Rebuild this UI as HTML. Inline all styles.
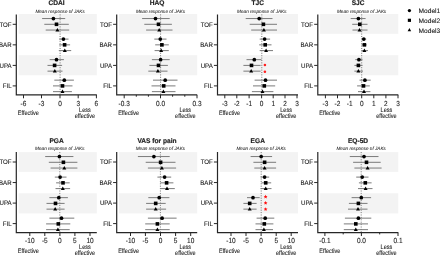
<!DOCTYPE html>
<html><head><meta charset="utf-8"><style>
html,body{margin:0;padding:0;background:#fff;width:440px;height:255px;overflow:hidden}
svg{display:block;will-change:transform;text-rendering:geometricPrecision}
text{font-family:"Liberation Sans", sans-serif;fill:#1c1c1c;stroke:#1c1c1c;stroke-width:0}
text.sub{stroke-width:0.05px}
text.cat,text.tk,text.ef,text.lg{stroke-width:0.1px}
text.ti{stroke-width:0.18px}
</style></head><body>
<svg width="440" height="255" viewBox="0 0 440 255">
<g transform="translate(0,0)">
<rect x="18.6" y="14" width="78.2" height="19.8" fill="#f3f3f3"/>
<rect x="18.6" y="55.2" width="78.2" height="20.1" fill="#f3f3f3"/>
<line x1="60.1" y1="14.4" x2="60.1" y2="94.9" stroke="#666" stroke-width="0.9" stroke-dasharray="1,1.4"/>
<line x1="42.1" y1="18.55" x2="65.2" y2="18.55" stroke="#7a7a7a" stroke-width="1"/>
<circle cx="53.4" cy="18.55" r="1.85" fill="#000"/>
<line x1="44.3" y1="24.3" x2="68.8" y2="24.3" stroke="#7a7a7a" stroke-width="1"/>
<rect x="54.7" y="22.5" width="3.6" height="3.6" fill="#000"/>
<line x1="45.7" y1="30.05" x2="69.2" y2="30.05" stroke="#7a7a7a" stroke-width="1"/>
<polygon points="57.4,27.89 55.4,31.49 59.4,31.49" fill="#000"/>
<line x1="59.2" y1="39.1" x2="68.5" y2="39.1" stroke="#7a7a7a" stroke-width="1"/>
<circle cx="63.4" cy="39.1" r="1.85" fill="#000"/>
<line x1="59.2" y1="44.85" x2="70.1" y2="44.85" stroke="#7a7a7a" stroke-width="1"/>
<rect x="62.8" y="43.05" width="3.6" height="3.6" fill="#000"/>
<line x1="58.8" y1="50.6" x2="71.2" y2="50.6" stroke="#7a7a7a" stroke-width="1"/>
<polygon points="64.8,48.44 62.8,52.04 66.8,52.04" fill="#000"/>
<line x1="49.7" y1="59.65" x2="63.9" y2="59.65" stroke="#7a7a7a" stroke-width="1"/>
<circle cx="56.5" cy="59.65" r="1.85" fill="#000"/>
<line x1="47.5" y1="65.4" x2="62.1" y2="65.4" stroke="#7a7a7a" stroke-width="1"/>
<rect x="52.8" y="63.6" width="3.6" height="3.6" fill="#000"/>
<line x1="47.5" y1="71.15" x2="62.5" y2="71.15" stroke="#7a7a7a" stroke-width="1"/>
<polygon points="54.8,68.99 52.8,72.59 56.8,72.59" fill="#000"/>
<line x1="54.3" y1="80.15" x2="73.9" y2="80.15" stroke="#7a7a7a" stroke-width="1"/>
<circle cx="64.3" cy="80.15" r="1.85" fill="#000"/>
<line x1="53" y1="85.9" x2="72.5" y2="85.9" stroke="#7a7a7a" stroke-width="1"/>
<rect x="60.7" y="84.1" width="3.6" height="3.6" fill="#000"/>
<line x1="53" y1="91.65" x2="71.9" y2="91.65" stroke="#7a7a7a" stroke-width="1"/>
<polygon points="62.5,89.49 60.5,93.09 64.5,93.09" fill="#000"/>
<path d="M16.3 14.4 V94.9 H96.8" fill="none" stroke="#262626" stroke-width="1.2"/>
<line x1="12.7" y1="24.3" x2="16.3" y2="24.3" stroke="#262626" stroke-width="1"/>
<text transform="translate(11.6,26.6) scale(0.94,1)" text-anchor="end" font-size="6.5" class="cat">TOF</text>
<line x1="12.7" y1="44.85" x2="16.3" y2="44.85" stroke="#262626" stroke-width="1"/>
<text transform="translate(11.6,47.15) scale(0.94,1)" text-anchor="end" font-size="6.5" class="cat">BAR</text>
<line x1="12.7" y1="65.4" x2="16.3" y2="65.4" stroke="#262626" stroke-width="1"/>
<text transform="translate(11.6,67.7) scale(0.94,1)" text-anchor="end" font-size="6.5" class="cat">UPA</text>
<line x1="12.7" y1="85.9" x2="16.3" y2="85.9" stroke="#262626" stroke-width="1"/>
<text transform="translate(11.6,88.2) scale(0.94,1)" text-anchor="end" font-size="6.5" class="cat">FIL</text>
<line x1="23.5" y1="94.9" x2="23.5" y2="98.3" stroke="#262626" stroke-width="1"/>
<text transform="translate(23.5,105.5) scale(0.88,1)" text-anchor="middle" font-size="7.4" class="tk">-6</text>
<line x1="41.5" y1="94.9" x2="41.5" y2="98.3" stroke="#262626" stroke-width="1"/>
<text transform="translate(41.5,105.5) scale(0.88,1)" text-anchor="middle" font-size="7.4" class="tk">-3</text>
<line x1="60" y1="94.9" x2="60" y2="98.3" stroke="#262626" stroke-width="1"/>
<text transform="translate(60,105.5) scale(0.88,1)" text-anchor="middle" font-size="7.4" class="tk">0</text>
<line x1="78.2" y1="94.9" x2="78.2" y2="98.3" stroke="#262626" stroke-width="1"/>
<text transform="translate(78.2,105.5) scale(0.88,1)" text-anchor="middle" font-size="7.4" class="tk">3</text>
<line x1="96.4" y1="94.9" x2="96.4" y2="98.3" stroke="#262626" stroke-width="1"/>
<text transform="translate(96.4,105.5) scale(0.88,1)" text-anchor="middle" font-size="7.4" class="tk">6</text>
<text transform="translate(17.8,114.9) scale(0.86,1)" font-size="6.4" class="ef">Effective</text>
<text transform="translate(84.9,111.6) scale(0.86,1)" text-anchor="middle" font-size="6.4" class="ef">Less</text>
<text transform="translate(84.9,117.6) scale(0.86,1)" text-anchor="middle" font-size="6.4" class="ef">effective</text>
<text transform="translate(56.55,4.8) scale(0.97,1)" text-anchor="middle" font-size="6.8" font-weight="bold" class="ti">CDAI</text>
<text transform="translate(60.1,12.8) scale(0.97,1)" text-anchor="middle" font-size="4.8" font-style="italic" class="sub">Mean response of JAKs</text>
</g>
<g transform="translate(0,0)">
<rect x="119" y="14" width="78.2" height="19.8" fill="#f3f3f3"/>
<rect x="119" y="55.2" width="78.2" height="20.1" fill="#f3f3f3"/>
<line x1="160.6" y1="14.4" x2="160.6" y2="94.9" stroke="#666" stroke-width="0.9" stroke-dasharray="1,1.4"/>
<line x1="142.1" y1="18.55" x2="169.7" y2="18.55" stroke="#7a7a7a" stroke-width="1"/>
<circle cx="155.5" cy="18.55" r="1.85" fill="#000"/>
<line x1="144.3" y1="24.3" x2="171.9" y2="24.3" stroke="#7a7a7a" stroke-width="1"/>
<rect x="156.7" y="22.5" width="3.6" height="3.6" fill="#000"/>
<line x1="146.1" y1="30.05" x2="172.5" y2="30.05" stroke="#7a7a7a" stroke-width="1"/>
<polygon points="159.2,27.89 157.2,31.49 161.2,31.49" fill="#000"/>
<line x1="154.3" y1="39.1" x2="166.5" y2="39.1" stroke="#7a7a7a" stroke-width="1"/>
<circle cx="160.3" cy="39.1" r="1.85" fill="#000"/>
<line x1="155.2" y1="44.85" x2="168.8" y2="44.85" stroke="#7a7a7a" stroke-width="1"/>
<rect x="160.1" y="43.05" width="3.6" height="3.6" fill="#000"/>
<line x1="154.6" y1="50.6" x2="168.8" y2="50.6" stroke="#7a7a7a" stroke-width="1"/>
<polygon points="161.2,48.44 159.2,52.04 163.2,52.04" fill="#000"/>
<line x1="151.9" y1="59.65" x2="169.7" y2="59.65" stroke="#7a7a7a" stroke-width="1"/>
<circle cx="160.6" cy="59.65" r="1.85" fill="#000"/>
<line x1="149.4" y1="65.4" x2="167.9" y2="65.4" stroke="#7a7a7a" stroke-width="1"/>
<rect x="156.7" y="63.6" width="3.6" height="3.6" fill="#000"/>
<line x1="148.3" y1="71.15" x2="167.5" y2="71.15" stroke="#7a7a7a" stroke-width="1"/>
<polygon points="157.9,68.99 155.9,72.59 159.9,72.59" fill="#000"/>
<line x1="153" y1="80.15" x2="177.5" y2="80.15" stroke="#7a7a7a" stroke-width="1"/>
<circle cx="165.2" cy="80.15" r="1.85" fill="#000"/>
<line x1="151.5" y1="85.9" x2="175.5" y2="85.9" stroke="#7a7a7a" stroke-width="1"/>
<rect x="161.9" y="84.1" width="3.6" height="3.6" fill="#000"/>
<line x1="151.9" y1="91.65" x2="175.5" y2="91.65" stroke="#7a7a7a" stroke-width="1"/>
<polygon points="163.4,89.49 161.4,93.09 165.4,93.09" fill="#000"/>
<path d="M116.7 14.4 V94.9 H197.2" fill="none" stroke="#262626" stroke-width="1.2"/>
<line x1="113.1" y1="24.3" x2="116.7" y2="24.3" stroke="#262626" stroke-width="1"/>
<text transform="translate(112,26.6) scale(0.94,1)" text-anchor="end" font-size="6.5" class="cat">TOF</text>
<line x1="113.1" y1="44.85" x2="116.7" y2="44.85" stroke="#262626" stroke-width="1"/>
<text transform="translate(112,47.15) scale(0.94,1)" text-anchor="end" font-size="6.5" class="cat">BAR</text>
<line x1="113.1" y1="65.4" x2="116.7" y2="65.4" stroke="#262626" stroke-width="1"/>
<text transform="translate(112,67.7) scale(0.94,1)" text-anchor="end" font-size="6.5" class="cat">UPA</text>
<line x1="113.1" y1="85.9" x2="116.7" y2="85.9" stroke="#262626" stroke-width="1"/>
<text transform="translate(112,88.2) scale(0.94,1)" text-anchor="end" font-size="6.5" class="cat">FIL</text>
<line x1="124.2" y1="94.9" x2="124.2" y2="98.3" stroke="#262626" stroke-width="1"/>
<text transform="translate(124.2,105.5) scale(0.88,1)" text-anchor="middle" font-size="7.4" class="tk">-0.3</text>
<line x1="136.3" y1="94.9" x2="136.3" y2="96.7" stroke="#262626" stroke-width="1"/>
<line x1="148.4" y1="94.9" x2="148.4" y2="96.7" stroke="#262626" stroke-width="1"/>
<line x1="160.5" y1="94.9" x2="160.5" y2="98.3" stroke="#262626" stroke-width="1"/>
<text transform="translate(160.5,105.5) scale(0.88,1)" text-anchor="middle" font-size="7.4" class="tk">0.0</text>
<line x1="172.6" y1="94.9" x2="172.6" y2="96.7" stroke="#262626" stroke-width="1"/>
<line x1="184.8" y1="94.9" x2="184.8" y2="96.7" stroke="#262626" stroke-width="1"/>
<line x1="197" y1="94.9" x2="197" y2="98.3" stroke="#262626" stroke-width="1"/>
<text transform="translate(197,105.5) scale(0.88,1)" text-anchor="middle" font-size="7.4" class="tk">0.3</text>
<text transform="translate(118.2,114.9) scale(0.86,1)" font-size="6.4" class="ef">Effective</text>
<text transform="translate(185.3,111.6) scale(0.86,1)" text-anchor="middle" font-size="6.4" class="ef">Less</text>
<text transform="translate(185.3,117.6) scale(0.86,1)" text-anchor="middle" font-size="6.4" class="ef">effective</text>
<text transform="translate(156.95,4.8) scale(0.97,1)" text-anchor="middle" font-size="6.8" font-weight="bold" class="ti">HAQ</text>
<text transform="translate(160.6,12.8) scale(0.97,1)" text-anchor="middle" font-size="4.8" font-style="italic" class="sub">Mean response of JAKs</text>
</g>
<g transform="translate(0,0)">
<rect x="219.8" y="14" width="78.2" height="19.8" fill="#f3f3f3"/>
<rect x="219.8" y="55.2" width="78.2" height="20.1" fill="#f3f3f3"/>
<line x1="261.8" y1="14.4" x2="261.8" y2="94.9" stroke="#666" stroke-width="0.9" stroke-dasharray="1,1.4"/>
<line x1="245.7" y1="18.55" x2="272.5" y2="18.55" stroke="#7a7a7a" stroke-width="1"/>
<circle cx="259.2" cy="18.55" r="1.85" fill="#000"/>
<line x1="249.7" y1="24.3" x2="277" y2="24.3" stroke="#7a7a7a" stroke-width="1"/>
<rect x="261.6" y="22.5" width="3.6" height="3.6" fill="#000"/>
<line x1="251.2" y1="30.05" x2="277" y2="30.05" stroke="#7a7a7a" stroke-width="1"/>
<polygon points="263.9,27.89 261.9,31.49 265.9,31.49" fill="#000"/>
<line x1="259.7" y1="39.1" x2="270.1" y2="39.1" stroke="#7a7a7a" stroke-width="1"/>
<circle cx="264.6" cy="39.1" r="1.85" fill="#000"/>
<line x1="259.2" y1="44.85" x2="271.5" y2="44.85" stroke="#7a7a7a" stroke-width="1"/>
<rect x="263.4" y="43.05" width="3.6" height="3.6" fill="#000"/>
<line x1="259.7" y1="50.6" x2="273" y2="50.6" stroke="#7a7a7a" stroke-width="1"/>
<polygon points="266.1,48.44 264.1,52.04 268.1,52.04" fill="#000"/>
<line x1="246.5" y1="59.65" x2="261.5" y2="59.65" stroke="#7a7a7a" stroke-width="1"/>
<circle cx="254.3" cy="59.65" r="1.85" fill="#000"/>
<line x1="243.4" y1="65.4" x2="260.6" y2="65.4" stroke="#7a7a7a" stroke-width="1"/>
<rect x="249.7" y="63.6" width="3.6" height="3.6" fill="#000"/>
<line x1="243.4" y1="71.15" x2="260.6" y2="71.15" stroke="#7a7a7a" stroke-width="1"/>
<polygon points="251.2,68.99 249.2,72.59 253.2,72.59" fill="#000"/>
<line x1="254.6" y1="80.15" x2="277" y2="80.15" stroke="#7a7a7a" stroke-width="1"/>
<circle cx="265.5" cy="80.15" r="1.85" fill="#000"/>
<line x1="253" y1="85.9" x2="275.2" y2="85.9" stroke="#7a7a7a" stroke-width="1"/>
<rect x="262.5" y="84.1" width="3.6" height="3.6" fill="#000"/>
<line x1="251.9" y1="91.65" x2="273.4" y2="91.65" stroke="#7a7a7a" stroke-width="1"/>
<polygon points="262.5,89.49 260.5,93.09 264.5,93.09" fill="#000"/>
<circle cx="264.9" cy="65.05" r="1.3" fill="#ff2020"/>
<circle cx="264.9" cy="71.7" r="1.3" fill="#ff2020"/>
<path d="M217.5 14.4 V94.9 H298" fill="none" stroke="#262626" stroke-width="1.2"/>
<line x1="213.9" y1="24.3" x2="217.5" y2="24.3" stroke="#262626" stroke-width="1"/>
<text transform="translate(212.8,26.6) scale(0.94,1)" text-anchor="end" font-size="6.5" class="cat">TOF</text>
<line x1="213.9" y1="44.85" x2="217.5" y2="44.85" stroke="#262626" stroke-width="1"/>
<text transform="translate(212.8,47.15) scale(0.94,1)" text-anchor="end" font-size="6.5" class="cat">BAR</text>
<line x1="213.9" y1="65.4" x2="217.5" y2="65.4" stroke="#262626" stroke-width="1"/>
<text transform="translate(212.8,67.7) scale(0.94,1)" text-anchor="end" font-size="6.5" class="cat">UPA</text>
<line x1="213.9" y1="85.9" x2="217.5" y2="85.9" stroke="#262626" stroke-width="1"/>
<text transform="translate(212.8,88.2) scale(0.94,1)" text-anchor="end" font-size="6.5" class="cat">FIL</text>
<line x1="224.8" y1="94.9" x2="224.8" y2="98.3" stroke="#262626" stroke-width="1"/>
<text transform="translate(224.8,105.5) scale(0.88,1)" text-anchor="middle" font-size="7.4" class="tk">-3</text>
<line x1="236.8" y1="94.9" x2="236.8" y2="98.3" stroke="#262626" stroke-width="1"/>
<text transform="translate(236.8,105.5) scale(0.88,1)" text-anchor="middle" font-size="7.4" class="tk">-2</text>
<line x1="249.1" y1="94.9" x2="249.1" y2="98.3" stroke="#262626" stroke-width="1"/>
<text transform="translate(249.1,105.5) scale(0.88,1)" text-anchor="middle" font-size="7.4" class="tk">-1</text>
<line x1="261.6" y1="94.9" x2="261.6" y2="98.3" stroke="#262626" stroke-width="1"/>
<text transform="translate(261.6,105.5) scale(0.88,1)" text-anchor="middle" font-size="7.4" class="tk">0</text>
<line x1="273.2" y1="94.9" x2="273.2" y2="98.3" stroke="#262626" stroke-width="1"/>
<text transform="translate(273.2,105.5) scale(0.88,1)" text-anchor="middle" font-size="7.4" class="tk">1</text>
<line x1="285" y1="94.9" x2="285" y2="98.3" stroke="#262626" stroke-width="1"/>
<text transform="translate(285,105.5) scale(0.88,1)" text-anchor="middle" font-size="7.4" class="tk">2</text>
<line x1="297" y1="94.9" x2="297" y2="98.3" stroke="#262626" stroke-width="1"/>
<text transform="translate(297,105.5) scale(0.88,1)" text-anchor="middle" font-size="7.4" class="tk">3</text>
<text transform="translate(219,114.9) scale(0.86,1)" font-size="6.4" class="ef">Effective</text>
<text transform="translate(286.1,111.6) scale(0.86,1)" text-anchor="middle" font-size="6.4" class="ef">Less</text>
<text transform="translate(286.1,117.6) scale(0.86,1)" text-anchor="middle" font-size="6.4" class="ef">effective</text>
<text transform="translate(257.75,4.8) scale(0.97,1)" text-anchor="middle" font-size="6.8" font-weight="bold" class="ti">TJC</text>
<text transform="translate(261.8,12.8) scale(0.97,1)" text-anchor="middle" font-size="4.8" font-style="italic" class="sub">Mean response of JAKs</text>
</g>
<g transform="translate(0,0)">
<rect x="320.1" y="14" width="78.2" height="19.8" fill="#f3f3f3"/>
<rect x="320.1" y="55.2" width="78.2" height="20.1" fill="#f3f3f3"/>
<line x1="361.7" y1="14.4" x2="361.7" y2="94.9" stroke="#666" stroke-width="0.9" stroke-dasharray="1,1.4"/>
<line x1="350.7" y1="18.55" x2="365.6" y2="18.55" stroke="#7a7a7a" stroke-width="1"/>
<circle cx="358.4" cy="18.55" r="1.85" fill="#000"/>
<line x1="352.2" y1="24.3" x2="367.5" y2="24.3" stroke="#7a7a7a" stroke-width="1"/>
<rect x="358" y="22.5" width="3.6" height="3.6" fill="#000"/>
<line x1="352.5" y1="30.05" x2="367.5" y2="30.05" stroke="#7a7a7a" stroke-width="1"/>
<polygon points="359.5,27.89 357.5,31.49 361.5,31.49" fill="#000"/>
<line x1="361.6" y1="39.1" x2="366.2" y2="39.1" stroke="#7a7a7a" stroke-width="1"/>
<circle cx="363.8" cy="39.1" r="1.85" fill="#000"/>
<line x1="361.6" y1="44.85" x2="366.7" y2="44.85" stroke="#7a7a7a" stroke-width="1"/>
<rect x="362.6" y="43.05" width="3.6" height="3.6" fill="#000"/>
<line x1="361.6" y1="50.6" x2="368" y2="50.6" stroke="#7a7a7a" stroke-width="1"/>
<polygon points="364.4,48.44 362.4,52.04 366.4,52.04" fill="#000"/>
<line x1="355.3" y1="59.65" x2="362.5" y2="59.65" stroke="#7a7a7a" stroke-width="1"/>
<circle cx="358.9" cy="59.65" r="1.85" fill="#000"/>
<line x1="354.4" y1="65.4" x2="362.5" y2="65.4" stroke="#7a7a7a" stroke-width="1"/>
<rect x="356.6" y="63.6" width="3.6" height="3.6" fill="#000"/>
<line x1="354.4" y1="71.15" x2="363" y2="71.15" stroke="#7a7a7a" stroke-width="1"/>
<polygon points="358.4,68.99 356.4,72.59 360.4,72.59" fill="#000"/>
<line x1="359.5" y1="80.15" x2="370.7" y2="80.15" stroke="#7a7a7a" stroke-width="1"/>
<circle cx="364.9" cy="80.15" r="1.85" fill="#000"/>
<line x1="357.1" y1="85.9" x2="369.8" y2="85.9" stroke="#7a7a7a" stroke-width="1"/>
<rect x="361.7" y="84.1" width="3.6" height="3.6" fill="#000"/>
<line x1="358" y1="91.65" x2="370.4" y2="91.65" stroke="#7a7a7a" stroke-width="1"/>
<polygon points="364,89.49 362,93.09 366,93.09" fill="#000"/>
<path d="M317.8 14.4 V94.9 H398.3" fill="none" stroke="#262626" stroke-width="1.2"/>
<line x1="314.2" y1="24.3" x2="317.8" y2="24.3" stroke="#262626" stroke-width="1"/>
<text transform="translate(313.1,26.6) scale(0.94,1)" text-anchor="end" font-size="6.5" class="cat">TOF</text>
<line x1="314.2" y1="44.85" x2="317.8" y2="44.85" stroke="#262626" stroke-width="1"/>
<text transform="translate(313.1,47.15) scale(0.94,1)" text-anchor="end" font-size="6.5" class="cat">BAR</text>
<line x1="314.2" y1="65.4" x2="317.8" y2="65.4" stroke="#262626" stroke-width="1"/>
<text transform="translate(313.1,67.7) scale(0.94,1)" text-anchor="end" font-size="6.5" class="cat">UPA</text>
<line x1="314.2" y1="85.9" x2="317.8" y2="85.9" stroke="#262626" stroke-width="1"/>
<text transform="translate(313.1,88.2) scale(0.94,1)" text-anchor="end" font-size="6.5" class="cat">FIL</text>
<line x1="325.4" y1="94.9" x2="325.4" y2="98.3" stroke="#262626" stroke-width="1"/>
<text transform="translate(325.4,105.5) scale(0.88,1)" text-anchor="middle" font-size="7.4" class="tk">-3</text>
<line x1="337.5" y1="94.9" x2="337.5" y2="98.3" stroke="#262626" stroke-width="1"/>
<text transform="translate(337.5,105.5) scale(0.88,1)" text-anchor="middle" font-size="7.4" class="tk">-2</text>
<line x1="349.6" y1="94.9" x2="349.6" y2="98.3" stroke="#262626" stroke-width="1"/>
<text transform="translate(349.6,105.5) scale(0.88,1)" text-anchor="middle" font-size="7.4" class="tk">-1</text>
<line x1="361.7" y1="94.9" x2="361.7" y2="98.3" stroke="#262626" stroke-width="1"/>
<text transform="translate(361.7,105.5) scale(0.88,1)" text-anchor="middle" font-size="7.4" class="tk">0</text>
<line x1="373.8" y1="94.9" x2="373.8" y2="98.3" stroke="#262626" stroke-width="1"/>
<text transform="translate(373.8,105.5) scale(0.88,1)" text-anchor="middle" font-size="7.4" class="tk">1</text>
<line x1="385.9" y1="94.9" x2="385.9" y2="98.3" stroke="#262626" stroke-width="1"/>
<text transform="translate(385.9,105.5) scale(0.88,1)" text-anchor="middle" font-size="7.4" class="tk">2</text>
<line x1="398" y1="94.9" x2="398" y2="98.3" stroke="#262626" stroke-width="1"/>
<text transform="translate(398,105.5) scale(0.88,1)" text-anchor="middle" font-size="7.4" class="tk">3</text>
<text transform="translate(319.3,114.9) scale(0.86,1)" font-size="6.4" class="ef">Effective</text>
<text transform="translate(386.4,111.6) scale(0.86,1)" text-anchor="middle" font-size="6.4" class="ef">Less</text>
<text transform="translate(386.4,117.6) scale(0.86,1)" text-anchor="middle" font-size="6.4" class="ef">effective</text>
<text transform="translate(358.05,4.8) scale(0.97,1)" text-anchor="middle" font-size="6.8" font-weight="bold" class="ti">SJC</text>
<text transform="translate(361.7,12.8) scale(0.97,1)" text-anchor="middle" font-size="4.8" font-style="italic" class="sub">Mean response of JAKs</text>
</g>
<g transform="translate(0,137.7)">
<rect x="18.6" y="14.4" width="78.2" height="19.8" fill="#f3f3f3"/>
<rect x="18.6" y="55.6" width="78.2" height="20.1" fill="#f3f3f3"/>
<line x1="59.8" y1="14.4" x2="59.8" y2="94.9" stroke="#666" stroke-width="0.9" stroke-dasharray="1,1.4"/>
<line x1="45.2" y1="18.85" x2="73.4" y2="18.85" stroke="#7a7a7a" stroke-width="1"/>
<circle cx="59.4" cy="18.85" r="1.85" fill="#000"/>
<line x1="48.8" y1="24.6" x2="77.4" y2="24.6" stroke="#7a7a7a" stroke-width="1"/>
<rect x="61.6" y="22.8" width="3.6" height="3.6" fill="#000"/>
<line x1="50.6" y1="30.35" x2="77.4" y2="30.35" stroke="#7a7a7a" stroke-width="1"/>
<polygon points="64.3,28.19 62.3,31.79 66.3,31.79" fill="#000"/>
<line x1="54.8" y1="39.4" x2="66.5" y2="39.4" stroke="#7a7a7a" stroke-width="1"/>
<circle cx="60.1" cy="39.4" r="1.85" fill="#000"/>
<line x1="56.1" y1="45.15" x2="69.7" y2="45.15" stroke="#7a7a7a" stroke-width="1"/>
<rect x="61.2" y="43.35" width="3.6" height="3.6" fill="#000"/>
<line x1="55.5" y1="50.9" x2="70.1" y2="50.9" stroke="#7a7a7a" stroke-width="1"/>
<polygon points="62.8,48.74 60.8,52.34 64.8,52.34" fill="#000"/>
<line x1="49.4" y1="59.95" x2="67.9" y2="59.95" stroke="#7a7a7a" stroke-width="1"/>
<circle cx="58.8" cy="59.95" r="1.85" fill="#000"/>
<line x1="46.5" y1="65.7" x2="64.6" y2="65.7" stroke="#7a7a7a" stroke-width="1"/>
<rect x="53.7" y="63.9" width="3.6" height="3.6" fill="#000"/>
<line x1="46.5" y1="71.45" x2="64.6" y2="71.45" stroke="#7a7a7a" stroke-width="1"/>
<polygon points="55.2,69.29 53.2,72.89 57.2,72.89" fill="#000"/>
<line x1="49.4" y1="80.45" x2="74.3" y2="80.45" stroke="#7a7a7a" stroke-width="1"/>
<circle cx="61.5" cy="80.45" r="1.85" fill="#000"/>
<line x1="46.1" y1="86.2" x2="70.3" y2="86.2" stroke="#7a7a7a" stroke-width="1"/>
<rect x="56.5" y="84.4" width="3.6" height="3.6" fill="#000"/>
<line x1="46.1" y1="91.95" x2="69.7" y2="91.95" stroke="#7a7a7a" stroke-width="1"/>
<polygon points="57.9,89.79 55.9,93.39 59.9,93.39" fill="#000"/>
<path d="M16.3 14.4 V94.9 H96.8" fill="none" stroke="#262626" stroke-width="1.2"/>
<line x1="12.7" y1="24.3" x2="16.3" y2="24.3" stroke="#262626" stroke-width="1"/>
<text transform="translate(11.6,26.6) scale(0.94,1)" text-anchor="end" font-size="6.5" class="cat">TOF</text>
<line x1="12.7" y1="44.85" x2="16.3" y2="44.85" stroke="#262626" stroke-width="1"/>
<text transform="translate(11.6,47.15) scale(0.94,1)" text-anchor="end" font-size="6.5" class="cat">BAR</text>
<line x1="12.7" y1="65.4" x2="16.3" y2="65.4" stroke="#262626" stroke-width="1"/>
<text transform="translate(11.6,67.7) scale(0.94,1)" text-anchor="end" font-size="6.5" class="cat">UPA</text>
<line x1="12.7" y1="85.9" x2="16.3" y2="85.9" stroke="#262626" stroke-width="1"/>
<text transform="translate(11.6,88.2) scale(0.94,1)" text-anchor="end" font-size="6.5" class="cat">FIL</text>
<line x1="29.8" y1="94.9" x2="29.8" y2="98.3" stroke="#262626" stroke-width="1"/>
<text transform="translate(29.8,105.5) scale(0.88,1)" text-anchor="middle" font-size="7.4" class="tk">-10</text>
<line x1="44.8" y1="94.9" x2="44.8" y2="98.3" stroke="#262626" stroke-width="1"/>
<text transform="translate(44.8,105.5) scale(0.88,1)" text-anchor="middle" font-size="7.4" class="tk">-5</text>
<line x1="59.9" y1="94.9" x2="59.9" y2="98.3" stroke="#262626" stroke-width="1"/>
<text transform="translate(59.9,105.5) scale(0.88,1)" text-anchor="middle" font-size="7.4" class="tk">0</text>
<line x1="74.9" y1="94.9" x2="74.9" y2="98.3" stroke="#262626" stroke-width="1"/>
<text transform="translate(74.9,105.5) scale(0.88,1)" text-anchor="middle" font-size="7.4" class="tk">5</text>
<line x1="90" y1="94.9" x2="90" y2="98.3" stroke="#262626" stroke-width="1"/>
<text transform="translate(90,105.5) scale(0.88,1)" text-anchor="middle" font-size="7.4" class="tk">10</text>
<text transform="translate(17.8,114.9) scale(0.86,1)" font-size="6.4" class="ef">Effective</text>
<text transform="translate(84.9,111.6) scale(0.86,1)" text-anchor="middle" font-size="6.4" class="ef">Less</text>
<text transform="translate(84.9,117.6) scale(0.86,1)" text-anchor="middle" font-size="6.4" class="ef">effective</text>
<text transform="translate(56.55,4.8) scale(0.97,1)" text-anchor="middle" font-size="6.8" font-weight="bold" class="ti">PGA</text>
<text transform="translate(59.8,12.4) scale(0.97,1)" text-anchor="middle" font-size="4.8" font-style="italic" class="sub">Mean response of JAKs</text>
</g>
<g transform="translate(0,137.7)">
<rect x="119" y="14.4" width="78.2" height="19.8" fill="#f3f3f3"/>
<rect x="119" y="55.6" width="78.2" height="20.1" fill="#f3f3f3"/>
<line x1="160.4" y1="14.4" x2="160.4" y2="94.9" stroke="#666" stroke-width="0.9" stroke-dasharray="1,1.4"/>
<line x1="137.9" y1="18.85" x2="169.7" y2="18.85" stroke="#7a7a7a" stroke-width="1"/>
<circle cx="153.9" cy="18.85" r="1.85" fill="#000"/>
<line x1="145.7" y1="24.6" x2="175.5" y2="24.6" stroke="#7a7a7a" stroke-width="1"/>
<rect x="158.8" y="22.8" width="3.6" height="3.6" fill="#000"/>
<line x1="147.9" y1="30.35" x2="176.1" y2="30.35" stroke="#7a7a7a" stroke-width="1"/>
<polygon points="161.9,28.19 159.9,31.79 163.9,31.79" fill="#000"/>
<line x1="157.4" y1="39.4" x2="171.2" y2="39.4" stroke="#7a7a7a" stroke-width="1"/>
<circle cx="164.6" cy="39.4" r="1.85" fill="#000"/>
<line x1="160.3" y1="45.15" x2="173.4" y2="45.15" stroke="#7a7a7a" stroke-width="1"/>
<rect x="164.8" y="43.35" width="3.6" height="3.6" fill="#000"/>
<line x1="160.3" y1="50.9" x2="174.8" y2="50.9" stroke="#7a7a7a" stroke-width="1"/>
<polygon points="167,48.74 165,52.34 169,52.34" fill="#000"/>
<line x1="148.3" y1="59.95" x2="169.4" y2="59.95" stroke="#7a7a7a" stroke-width="1"/>
<circle cx="159.2" cy="59.95" r="1.85" fill="#000"/>
<line x1="146.1" y1="65.7" x2="165.7" y2="65.7" stroke="#7a7a7a" stroke-width="1"/>
<rect x="153.9" y="63.9" width="3.6" height="3.6" fill="#000"/>
<line x1="146.1" y1="71.45" x2="166.1" y2="71.45" stroke="#7a7a7a" stroke-width="1"/>
<polygon points="155.7,69.29 153.7,72.89 157.7,72.89" fill="#000"/>
<line x1="147.9" y1="80.45" x2="176.6" y2="80.45" stroke="#7a7a7a" stroke-width="1"/>
<circle cx="162.1" cy="80.45" r="1.85" fill="#000"/>
<line x1="145.2" y1="86.2" x2="169.7" y2="86.2" stroke="#7a7a7a" stroke-width="1"/>
<rect x="155.6" y="84.4" width="3.6" height="3.6" fill="#000"/>
<line x1="145.2" y1="91.95" x2="169.7" y2="91.95" stroke="#7a7a7a" stroke-width="1"/>
<polygon points="157.4,89.79 155.4,93.39 159.4,93.39" fill="#000"/>
<path d="M116.7 14.4 V94.9 H197.2" fill="none" stroke="#262626" stroke-width="1.2"/>
<line x1="113.1" y1="24.3" x2="116.7" y2="24.3" stroke="#262626" stroke-width="1"/>
<text transform="translate(112,26.6) scale(0.94,1)" text-anchor="end" font-size="6.5" class="cat">TOF</text>
<line x1="113.1" y1="44.85" x2="116.7" y2="44.85" stroke="#262626" stroke-width="1"/>
<text transform="translate(112,47.15) scale(0.94,1)" text-anchor="end" font-size="6.5" class="cat">BAR</text>
<line x1="113.1" y1="65.4" x2="116.7" y2="65.4" stroke="#262626" stroke-width="1"/>
<text transform="translate(112,67.7) scale(0.94,1)" text-anchor="end" font-size="6.5" class="cat">UPA</text>
<line x1="113.1" y1="85.9" x2="116.7" y2="85.9" stroke="#262626" stroke-width="1"/>
<text transform="translate(112,88.2) scale(0.94,1)" text-anchor="end" font-size="6.5" class="cat">FIL</text>
<line x1="130.5" y1="94.9" x2="130.5" y2="98.3" stroke="#262626" stroke-width="1"/>
<text transform="translate(130.5,105.5) scale(0.88,1)" text-anchor="middle" font-size="7.4" class="tk">-10</text>
<line x1="145.4" y1="94.9" x2="145.4" y2="98.3" stroke="#262626" stroke-width="1"/>
<text transform="translate(145.4,105.5) scale(0.88,1)" text-anchor="middle" font-size="7.4" class="tk">-5</text>
<line x1="160.5" y1="94.9" x2="160.5" y2="98.3" stroke="#262626" stroke-width="1"/>
<text transform="translate(160.5,105.5) scale(0.88,1)" text-anchor="middle" font-size="7.4" class="tk">0</text>
<line x1="175.6" y1="94.9" x2="175.6" y2="98.3" stroke="#262626" stroke-width="1"/>
<text transform="translate(175.6,105.5) scale(0.88,1)" text-anchor="middle" font-size="7.4" class="tk">5</text>
<line x1="190.7" y1="94.9" x2="190.7" y2="98.3" stroke="#262626" stroke-width="1"/>
<text transform="translate(190.7,105.5) scale(0.88,1)" text-anchor="middle" font-size="7.4" class="tk">10</text>
<text transform="translate(118.2,114.9) scale(0.86,1)" font-size="6.4" class="ef">Effective</text>
<text transform="translate(185.3,111.6) scale(0.86,1)" text-anchor="middle" font-size="6.4" class="ef">Less</text>
<text transform="translate(185.3,117.6) scale(0.86,1)" text-anchor="middle" font-size="6.4" class="ef">effective</text>
<text transform="translate(156.95,4.8) scale(0.97,1)" text-anchor="middle" font-size="6.8" font-weight="bold" class="ti">VAS for pain</text>
<text transform="translate(160.4,12.4) scale(0.97,1)" text-anchor="middle" font-size="4.8" font-style="italic" class="sub">Mean response of JAKs</text>
</g>
<g transform="translate(0,137.7)">
<rect x="219.8" y="14.4" width="78.2" height="19.8" fill="#f3f3f3"/>
<rect x="219.8" y="55.6" width="78.2" height="20.1" fill="#f3f3f3"/>
<line x1="261.2" y1="14.4" x2="261.2" y2="94.9" stroke="#666" stroke-width="0.9" stroke-dasharray="1,1.4"/>
<line x1="250.6" y1="18.85" x2="272.1" y2="18.85" stroke="#7a7a7a" stroke-width="1"/>
<circle cx="261.2" cy="18.85" r="1.85" fill="#000"/>
<line x1="253.4" y1="24.6" x2="276.1" y2="24.6" stroke="#7a7a7a" stroke-width="1"/>
<rect x="262.8" y="22.8" width="3.6" height="3.6" fill="#000"/>
<line x1="254.3" y1="30.35" x2="276.1" y2="30.35" stroke="#7a7a7a" stroke-width="1"/>
<polygon points="264.6,28.19 262.6,31.79 266.6,31.79" fill="#000"/>
<line x1="260.6" y1="39.4" x2="269.2" y2="39.4" stroke="#7a7a7a" stroke-width="1"/>
<circle cx="264.6" cy="39.4" r="1.85" fill="#000"/>
<line x1="261.5" y1="45.15" x2="271.2" y2="45.15" stroke="#7a7a7a" stroke-width="1"/>
<rect x="263.9" y="43.35" width="3.6" height="3.6" fill="#000"/>
<line x1="260.6" y1="50.9" x2="271.5" y2="50.9" stroke="#7a7a7a" stroke-width="1"/>
<polygon points="265.7,48.74 263.7,52.34 267.7,52.34" fill="#000"/>
<line x1="247" y1="59.95" x2="259.7" y2="59.95" stroke="#7a7a7a" stroke-width="1"/>
<circle cx="253" cy="59.95" r="1.85" fill="#000"/>
<line x1="243.4" y1="65.7" x2="256.6" y2="65.7" stroke="#7a7a7a" stroke-width="1"/>
<rect x="247.9" y="63.9" width="3.6" height="3.6" fill="#000"/>
<line x1="243.4" y1="71.45" x2="256.6" y2="71.45" stroke="#7a7a7a" stroke-width="1"/>
<polygon points="249.7,69.29 247.7,72.89 251.7,72.89" fill="#000"/>
<line x1="256.6" y1="80.45" x2="274.3" y2="80.45" stroke="#7a7a7a" stroke-width="1"/>
<circle cx="265.2" cy="80.45" r="1.85" fill="#000"/>
<line x1="255.5" y1="86.2" x2="273.4" y2="86.2" stroke="#7a7a7a" stroke-width="1"/>
<rect x="262.5" y="84.4" width="3.6" height="3.6" fill="#000"/>
<line x1="255.5" y1="91.95" x2="273" y2="91.95" stroke="#7a7a7a" stroke-width="1"/>
<polygon points="263.9,89.79 261.9,93.39 265.9,93.39" fill="#000"/>
<polygon points="265.6,57.1 266.19,58.29 267.5,58.48 266.55,59.41 266.78,60.72 265.6,60.1 264.42,60.72 264.65,59.41 263.7,58.48 265.01,58.29" fill="#ff1010"/>
<polygon points="265.6,63.3 266.19,64.49 267.5,64.68 266.55,65.61 266.78,66.92 265.6,66.3 264.42,66.92 264.65,65.61 263.7,64.68 265.01,64.49" fill="#ff1010"/>
<polygon points="265.6,69.5 266.19,70.69 267.5,70.88 266.55,71.81 266.78,73.12 265.6,72.5 264.42,73.12 264.65,71.81 263.7,70.88 265.01,70.69" fill="#ff1010"/>
<path d="M217.5 14.4 V94.9 H298" fill="none" stroke="#262626" stroke-width="1.2"/>
<line x1="213.9" y1="24.3" x2="217.5" y2="24.3" stroke="#262626" stroke-width="1"/>
<text transform="translate(212.8,26.6) scale(0.94,1)" text-anchor="end" font-size="6.5" class="cat">TOF</text>
<line x1="213.9" y1="44.85" x2="217.5" y2="44.85" stroke="#262626" stroke-width="1"/>
<text transform="translate(212.8,47.15) scale(0.94,1)" text-anchor="end" font-size="6.5" class="cat">BAR</text>
<line x1="213.9" y1="65.4" x2="217.5" y2="65.4" stroke="#262626" stroke-width="1"/>
<text transform="translate(212.8,67.7) scale(0.94,1)" text-anchor="end" font-size="6.5" class="cat">UPA</text>
<line x1="213.9" y1="85.9" x2="217.5" y2="85.9" stroke="#262626" stroke-width="1"/>
<text transform="translate(212.8,88.2) scale(0.94,1)" text-anchor="end" font-size="6.5" class="cat">FIL</text>
<line x1="231" y1="94.9" x2="231" y2="98.3" stroke="#262626" stroke-width="1"/>
<text transform="translate(231,105.5) scale(0.88,1)" text-anchor="middle" font-size="7.4" class="tk">-10</text>
<line x1="246" y1="94.9" x2="246" y2="98.3" stroke="#262626" stroke-width="1"/>
<text transform="translate(246,105.5) scale(0.88,1)" text-anchor="middle" font-size="7.4" class="tk">-5</text>
<line x1="261.1" y1="94.9" x2="261.1" y2="98.3" stroke="#262626" stroke-width="1"/>
<text transform="translate(261.1,105.5) scale(0.88,1)" text-anchor="middle" font-size="7.4" class="tk">0</text>
<line x1="276.2" y1="94.9" x2="276.2" y2="98.3" stroke="#262626" stroke-width="1"/>
<text transform="translate(276.2,105.5) scale(0.88,1)" text-anchor="middle" font-size="7.4" class="tk">5</text>
<line x1="291.2" y1="94.9" x2="291.2" y2="98.3" stroke="#262626" stroke-width="1"/>
<text transform="translate(291.2,105.5) scale(0.88,1)" text-anchor="middle" font-size="7.4" class="tk">10</text>
<text transform="translate(219,114.9) scale(0.86,1)" font-size="6.4" class="ef">Effective</text>
<text transform="translate(286.1,111.6) scale(0.86,1)" text-anchor="middle" font-size="6.4" class="ef">Less</text>
<text transform="translate(286.1,117.6) scale(0.86,1)" text-anchor="middle" font-size="6.4" class="ef">effective</text>
<text transform="translate(257.75,4.8) scale(0.97,1)" text-anchor="middle" font-size="6.8" font-weight="bold" class="ti">EGA</text>
<text transform="translate(261.2,12.4) scale(0.97,1)" text-anchor="middle" font-size="4.8" font-style="italic" class="sub">Mean response of JAKs</text>
</g>
<g transform="translate(0,137.7)">
<rect x="320.1" y="14.4" width="78.2" height="19.8" fill="#f3f3f3"/>
<rect x="320.1" y="55.6" width="78.2" height="20.1" fill="#f3f3f3"/>
<line x1="361.2" y1="14.4" x2="361.2" y2="94.9" stroke="#666" stroke-width="0.9" stroke-dasharray="1,1.4"/>
<line x1="349.8" y1="18.85" x2="378.5" y2="18.85" stroke="#7a7a7a" stroke-width="1"/>
<circle cx="364" cy="18.85" r="1.85" fill="#000"/>
<line x1="353.1" y1="24.6" x2="380.7" y2="24.6" stroke="#7a7a7a" stroke-width="1"/>
<rect x="364.7" y="22.8" width="3.6" height="3.6" fill="#000"/>
<line x1="354.4" y1="30.35" x2="381.6" y2="30.35" stroke="#7a7a7a" stroke-width="1"/>
<polygon points="367.6,28.19 365.6,31.79 369.6,31.79" fill="#000"/>
<line x1="356.2" y1="39.4" x2="368.5" y2="39.4" stroke="#7a7a7a" stroke-width="1"/>
<circle cx="362.2" cy="39.4" r="1.85" fill="#000"/>
<line x1="358.9" y1="45.15" x2="371.6" y2="45.15" stroke="#7a7a7a" stroke-width="1"/>
<rect x="363.5" y="43.35" width="3.6" height="3.6" fill="#000"/>
<line x1="358" y1="50.9" x2="372.5" y2="50.9" stroke="#7a7a7a" stroke-width="1"/>
<polygon points="365.6,48.74 363.6,52.34 367.6,52.34" fill="#000"/>
<line x1="351.6" y1="59.95" x2="371.1" y2="59.95" stroke="#7a7a7a" stroke-width="1"/>
<circle cx="361.3" cy="59.95" r="1.85" fill="#000"/>
<line x1="348.9" y1="65.7" x2="367.5" y2="65.7" stroke="#7a7a7a" stroke-width="1"/>
<rect x="356.6" y="63.9" width="3.6" height="3.6" fill="#000"/>
<line x1="348" y1="71.45" x2="367.5" y2="71.45" stroke="#7a7a7a" stroke-width="1"/>
<polygon points="358,69.29 356,72.89 360,72.89" fill="#000"/>
<line x1="344.9" y1="80.45" x2="371.3" y2="80.45" stroke="#7a7a7a" stroke-width="1"/>
<circle cx="358.4" cy="80.45" r="1.85" fill="#000"/>
<line x1="343.8" y1="86.2" x2="368" y2="86.2" stroke="#7a7a7a" stroke-width="1"/>
<rect x="354" y="84.4" width="3.6" height="3.6" fill="#000"/>
<line x1="343.8" y1="91.95" x2="368" y2="91.95" stroke="#7a7a7a" stroke-width="1"/>
<polygon points="355.8,89.79 353.8,93.39 357.8,93.39" fill="#000"/>
<path d="M317.8 14.4 V94.9 H398.3" fill="none" stroke="#262626" stroke-width="1.2"/>
<line x1="314.2" y1="24.3" x2="317.8" y2="24.3" stroke="#262626" stroke-width="1"/>
<text transform="translate(313.1,26.6) scale(0.94,1)" text-anchor="end" font-size="6.5" class="cat">TOF</text>
<line x1="314.2" y1="44.85" x2="317.8" y2="44.85" stroke="#262626" stroke-width="1"/>
<text transform="translate(313.1,47.15) scale(0.94,1)" text-anchor="end" font-size="6.5" class="cat">BAR</text>
<line x1="314.2" y1="65.4" x2="317.8" y2="65.4" stroke="#262626" stroke-width="1"/>
<text transform="translate(313.1,67.7) scale(0.94,1)" text-anchor="end" font-size="6.5" class="cat">UPA</text>
<line x1="314.2" y1="85.9" x2="317.8" y2="85.9" stroke="#262626" stroke-width="1"/>
<text transform="translate(313.1,88.2) scale(0.94,1)" text-anchor="end" font-size="6.5" class="cat">FIL</text>
<line x1="324.9" y1="94.9" x2="324.9" y2="98.3" stroke="#262626" stroke-width="1"/>
<text transform="translate(324.9,105.5) scale(0.88,1)" text-anchor="middle" font-size="7.4" class="tk">-0.1</text>
<line x1="343.2" y1="94.9" x2="343.2" y2="96.7" stroke="#262626" stroke-width="1"/>
<line x1="361.4" y1="94.9" x2="361.4" y2="98.3" stroke="#262626" stroke-width="1"/>
<text transform="translate(361.4,105.5) scale(0.88,1)" text-anchor="middle" font-size="7.4" class="tk">0.0</text>
<line x1="379.7" y1="94.9" x2="379.7" y2="96.7" stroke="#262626" stroke-width="1"/>
<line x1="398" y1="94.9" x2="398" y2="98.3" stroke="#262626" stroke-width="1"/>
<text transform="translate(398,105.5) scale(0.88,1)" text-anchor="middle" font-size="7.4" class="tk">0.1</text>
<text transform="translate(319.3,114.9) scale(0.86,1)" font-size="6.4" class="ef">Effective</text>
<text transform="translate(386.4,111.6) scale(0.86,1)" text-anchor="middle" font-size="6.4" class="ef">Less</text>
<text transform="translate(386.4,117.6) scale(0.86,1)" text-anchor="middle" font-size="6.4" class="ef">effective</text>
<text transform="translate(358.05,4.8) scale(0.97,1)" text-anchor="middle" font-size="6.8" font-weight="bold" class="ti">EQ-5D</text>
<text transform="translate(361.2,12.4) scale(0.97,1)" text-anchor="middle" font-size="4.8" font-style="italic" class="sub">Mean response of JAKs</text>
</g>
<circle cx="409.4" cy="10.6" r="1.63" fill="#000"/>
<text x="418.6" y="13.35" font-size="6.6" class="lg">Model1</text>
<rect x="407.82" y="18.72" width="3.17" height="3.17" fill="#000"/>
<text x="418.6" y="23.05" font-size="6.6" class="lg">Model2</text>
<polygon points="409.4,28 407.64,31.17 411.16,31.17" fill="#000"/>
<text x="418.6" y="32.65" font-size="6.6" class="lg">Model3</text>
</svg>
</body></html>
